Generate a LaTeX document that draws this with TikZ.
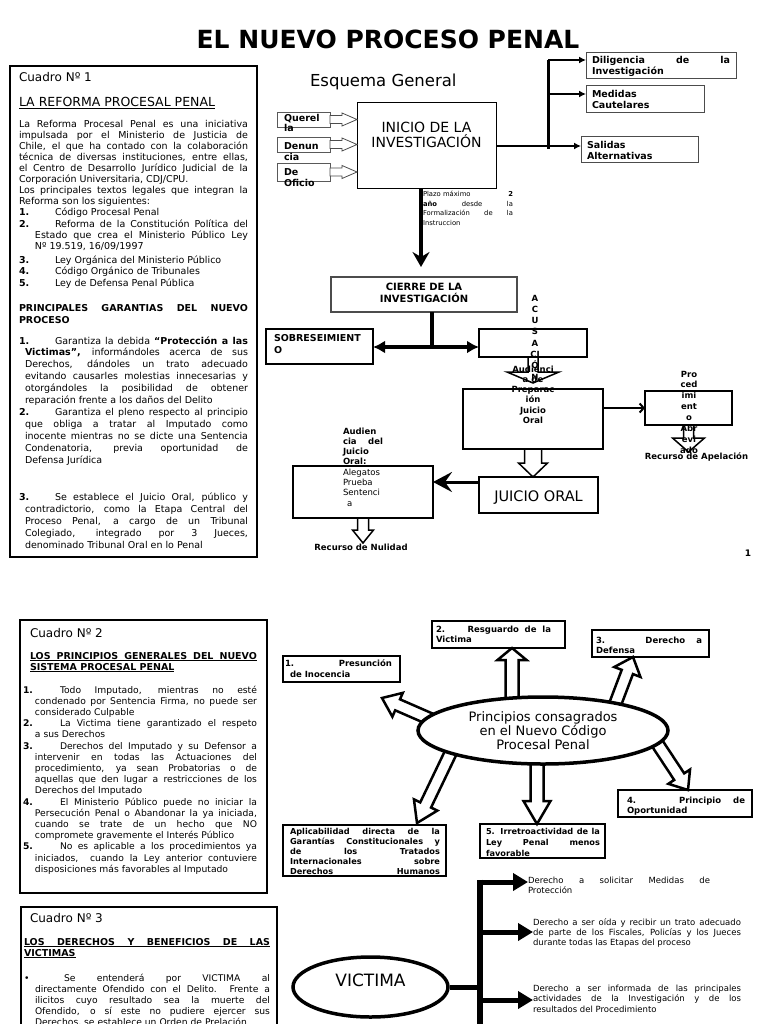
\documentclass[tikz,border=0pt]{standalone}
\usepackage{fontspec}
\setmainfont{DejaVu Sans}
\usetikzlibrary{arrows.meta,calc,shapes.geometric}
\newcommand\fs[2]{\fontsize{#1}{#2}\selectfont}
\newcommand\jpar[2]{\parbox[t]{#1pt}{#2}}
\newcommand\cpar[2]{\parbox[t]{#1pt}{\centering #2}}
\newcommand\lpar[2]{\parbox[t]{#1pt}{\raggedright #2}}
\newcommand\num[2]{\makebox[#1pt][l]{\textbf{#2}}}
\newcommand\uspread[2]{\underline{\makebox[#1pt][s]{#2}}}
\newcommand\rbox[6][]{\node[rectbox,#1,minimum width={#4-#2},minimum height={#5-#3}] (#6) at (#2,#3) {};}
\newcommand\harrow[6][]{%
 \coordinate (haS) at (#2);
 \coordinate (haT) at (#3);
 \coordinate (haH) at ($(haT)!#6pt!(haS)$);
 \draw[harr,#1] ($(haS)!#4pt!90:(haT)$) -- ($(haH)!#4pt!-90:(haS)$) -- ($(haH)!#5pt!-90:(haS)$) -- (haT) -- ($(haH)!#5pt!90:(haS)$) -- ($(haH)!#4pt!90:(haS)$) -- ($(haS)!#4pt!-90:(haT)$) -- cycle;}
\begin{document}
\begin{tikzpicture}[x=1pt,y=-1pt,
 txt/.style={anchor=base west,inner sep=0pt,outer sep=0pt},
 ctxt/.style={anchor=base,inner sep=0pt,outer sep=0pt},
 rectbox/.style={draw,anchor=north west,inner sep=0pt,outer sep=0pt,line width=1pt},
 harr/.style={draw=black,fill=white,line width=1.5pt,line join=miter},
 lat/.style={line width=2pt,-{Latex[length=7pt,width=7pt]}}]
\useasboundingbox (0,0) rectangle (768,1024);
\fill[white] (0,0) rectangle (768,1024);

\node[ctxt,font=\fs{25}{28}\bfseries] (title) at (388,49) {EL NUEVO PROCESO PENAL};

% ---------------- Cuadro 1
\rbox[line width=2.2pt]{10}{66}{257}{557}{c1}
\node[txt,font=\fs{12}{14}] (c1t) at (19,81.5) {Cuadro Nº 1};
\node[txt,font=\fs{12.5}{14}] (c1h) at (19,106.5) {\underline{LA REFORMA PROCESAL PENAL}};
\node[txt] (c1p) at (19,128) {\jpar{229}{\fs{9.5}{11}La Reforma Procesal Penal es una iniciativa\linebreak impulsada por el Ministerio de Justicia de\linebreak Chile, el que ha contado con la colaboración\linebreak técnica de diversas instituciones, entre ellas,\linebreak el Centro de Desarrollo Jurídico Judicial de la\linebreak Corporación Universitaria, CDJ/CPU.\\ Los principales textos legales que integran la\linebreak Reforma son los siguientes:}};
\node[txt] (c1l) at (19,216) {\jpar{229}{\fs{9.5}{11}\num{36}{1.}Código Procesal Penal\par\hangindent=16pt\hangafter=1\num{36}{2.}Reforma de la Constitución Política del\linebreak Estado que crea el Ministerio Público Ley\linebreak Nº 19.519, 16/09/1997}};
\node[txt] (c1m) at (19,263) {\jpar{229}{\fs{9.5}{11.5}\num{36}{3.}Ley Orgánica del Ministerio Público\par\num{36}{4.}Código Orgánico de Tribunales\par\num{36}{5.}Ley de Defensa Penal Pública}};
\node[txt] (c1g) at (19,311) {\jpar{229}{\fs{9.5}{12}\bfseries PRINCIPALES GARANTIAS DEL NUEVO\linebreak PROCESO}};
\node[txt] (c1g1) at (19,344) {\jpar{229}{\fs{9.5}{11.8}\hangindent=6pt\hangafter=1\num{36}{1.}Garantiza la debida \textbf{“Protección a las}\linebreak \textbf{Victimas”,} informándoles acerca de sus\linebreak Derechos, dándoles un trato adecuado\linebreak evitando causarles molestias innecesarias y\linebreak otorgándoles la posibilidad de obtener\linebreak reparación frente a los daños del Delito}};
\node[txt] (c1g2) at (19,415) {\jpar{229}{\fs{9.5}{12}\hangindent=6pt\hangafter=1\num{36}{2.}Garantiza el pleno respecto al principio\linebreak que obliga a tratar al Imputado como\linebreak inocente mientras no se dicte una Sentencia\linebreak Condenatoria, previa oportunidad de\linebreak Defensa Jurídica}};
\node[txt] (c1g3) at (19,500) {\jpar{229}{\fs{9.5}{12}\hangindent=6pt\hangafter=1\num{36}{3.}Se establece el Juicio Oral, público y\linebreak contradictorio, como la Etapa Central del\linebreak Proceso Penal, a cargo de un Tribunal\linebreak Colegiado, integrado por 3 Jueces,\linebreak denominado Tribunal Oral en lo Penal}};

% ---------------- Esquema general
\node[txt,font=\fs{16.5}{18}] (esq) at (310,87) {Esquema General};
\rbox{357}{103}{496}{189}{inicio}
\node[ctxt] (iniciot) at (426.5,133) {\cpar{138}{\fs{14}{15}INICIO DE LA\\INVESTIGACIÓN}};
\rbox[draw=gray!70!black,line width=0.9pt]{277}{112}{330}{127}{q1}
\rbox[draw=gray!70!black,line width=0.9pt]{277}{137}{330}{152}{q2}
\rbox[draw=gray!70!black,line width=0.9pt]{277}{163}{330}{181}{q3}
\node[txt] (q1t) at (284,122) {\lpar{50}{\fs{9.5}{10}\bfseries Querel\\la}};
\node[txt] (q2t) at (284,150) {\lpar{50}{\fs{9.5}{11}\bfseries Denun\\cia}};
\node[txt] (q3t) at (284,176) {\lpar{50}{\fs{9.5}{11}\bfseries De\\Oficio}};
\harrow[draw=gray!60!black,line width=0.8pt]{q1.east}{q1.east -| inicio.west}{4}{6.5}{15}
\harrow[draw=gray!60!black,line width=0.8pt]{q2.east}{q2.east -| inicio.west}{4}{6.5}{15}
\harrow[draw=gray!60!black,line width=0.8pt]{q3.east}{q3.east -| inicio.west}{4}{6.5}{15}

\rbox[draw=gray!60!black]{586}{53}{736}{79}{dilig}
\rbox[draw=gray!60!black]{586}{86}{704}{113}{medid}
\rbox[draw=gray!60!black]{581}{137}{698}{163}{salid}
\begin{scope}
\clip (dilig.south west) rectangle (dilig.north east);
\node[txt] (diligt) at (592,64) {\jpar{138}{\fs{9.5}{11}\bfseries Diligencia de la\linebreak Investigación}};
\end{scope}
\node[txt] (medidt) at (592,98) {\lpar{110}{\fs{9.5}{11}\bfseries Medidas\\Cautelares}};
\node[txt] (salidt) at (587,149) {\lpar{110}{\fs{9.5}{11}\bfseries Salidas\\Alternativas}};
\coordinate (tk1) at (548,60);
\coordinate (tk2) at (548,94);
\coordinate (tk3) at (548,149);
\draw[line width=3pt] (tk1) -- (tk3);
\draw[lat] (inicio.east) -- (inicio.east -| salid.west);
\draw[lat] (tk1) -- (tk1 -| dilig.west);
\draw[lat] (tk2) -- (tk2 -| medid.west);

\rbox[draw=gray!60!black,line width=1.2pt]{331}{277}{517}{312}{cierre}
\node[ctxt] (cierret) at (424,290) {\cpar{180}{\fs{10}{12}\bfseries CIERRE DE LA\\INVESTIGACIÓN}};
\coordinate (dn1) at ([xshift=-5.5pt]inicio.south);
\draw[line width=4pt,-{Stealth[length=15pt,width=17pt,inset=5pt]},shorten >=10pt] (dn1) -- (dn1 |- cierre.north);
\node[txt] (plazo) at (423,197) {\jpar{90}{\fs{6.8}{9.5}Plazo máximo\hfill\textbf{2}\linebreak\textbf{año} desde la\linebreak Formalización de la\linebreak Instruccion}};

\rbox[line width=2pt]{266}{329}{373}{364}{sobre}
\node[txt] (sobret) at (274,341) {\lpar{100}{\fs{9.5}{12}\bfseries SOBRESEIMIENT\\O}};
\rbox[line width=2pt]{479}{329}{587}{357}{acus}
\coordinate (split) at (432,347);
\draw[line width=4pt] (cierre.south -| split) -- (split);
\draw[line width=4pt,{Latex[length=12pt,width=13pt]}-{Latex[length=12pt,width=13pt]}] (split -| sobre.east) -- (split -| acus.west);

\rbox[line width=2pt]{463}{389}{603}{449}{audprep}
\coordinate (acusT) at ($(acus.south)+(0,26)$);
\harrow{acus.south}{acusT}{5}{26}{11}
\node[ctxt] (acust) at (535,301) {\cpar{20}{\fs{8.5}{11.3}\bfseries A\\C\\U\\S\\A\\CI\\Ó\\N}};
\node[ctxt] (audprept) at (533,372) {\cpar{60}{\fs{8.5}{10.3}\bfseries Audienci\\a de\\Preparac\\ión\\Juicio\\Oral}};

\rbox[line width=2pt]{645}{391}{732}{425}{proc}
\coordinate (apr) at ([yshift=11pt]audprep.east);
\draw[line width=2pt,-{Straight Barb[length=4pt,width=9pt]}] (apr) -- (apr -| proc.west);
\coordinate (procT) at ($(proc.south)+(0,27)$);
\harrow{proc.south}{procT}{5}{16}{14}
\node[ctxt] (proct) at (689,377) {\cpar{40}{\fs{8.5}{10.9}\bfseries Pro\\ced\\imi\\ent\\o\\Abr\\evi\\ado}};
\node[ctxt,font=\fs{8.5}{10}\bfseries] (apel) at (696.5,459) {Recurso de Apelación};

\rbox[line width=2.5pt]{479}{477}{598}{513}{jo}
\node[ctxt,font=\fs{14.5}{16}] (jot) at (538.5,501) {JUICIO ORAL};
\harrow{audprep.south}{audprep.south |- jo.north}{8.5}{14.5}{14}

\rbox[line width=2pt]{293}{466}{433}{518}{audj}
\coordinate (joL) at ([yshift=-5pt]jo.north west);
\draw[line width=3pt,-{Stealth[length=19pt,width=20pt,inset=7pt]}] (joL) -- (joL -| audj.east);
\node[txt] (audjt) at (343,434) {\lpar{50}{\fs{8.5}{10.3}\bfseries Audien\\\makebox[40pt]{cia\hfill del}\\Juicio\\Oral:\\\mdseries Alegatos\\Prueba\\Sentenci\\\hspace*{4pt}a}};
\coordinate (audjT) at ($(audj.south)+(0,25)$);
\harrow{audj.south}{audjT}{5.5}{10.5}{13}
\node[ctxt,font=\fs{8.5}{10}\bfseries] (nul) at (361,550) {Recurso de Nulidad};
\node[ctxt,font=\fs{9}{10}\bfseries] (pg) at (748,556) {1};

% ---------------- Cuadro 2
\rbox[line width=2.2pt]{20}{620}{267}{893}{c2}
\node[txt,font=\fs{12}{14}] (c2t) at (30,637) {Cuadro Nº 2};
\node[txt] (c2h) at (30,659) {\jpar{227}{\fs{9.5}{11}\bfseries\uspread{227}{LOS PRINCIPIOS GENERALES DEL NUEVO}\\\underline{SISTEMA PROCESAL PENAL}}};
\node[txt] (c2b) at (23,693) {\jpar{234}{\fs{9.2}{11.2}\hangindent=12pt\hangafter=1\num{37}{1.}Todo Imputado, mientras no esté\linebreak condenado por Sentencia Firma, no puede ser\linebreak considerado Culpable\par
\hangindent=12pt\hangafter=1\num{37}{2.}La Victima tiene garantizado el respeto\linebreak a sus Derechos\par
\hangindent=12pt\hangafter=1\num{37}{3.}Derechos del Imputado y su Defensor a\linebreak intervenir en todas las Actuaciones del\linebreak procedimiento, ya sean Probatorias o de\linebreak aquellas que den lugar a restricciones de los\linebreak Derechos del Imputado\par
\hangindent=12pt\hangafter=1\num{37}{4.}El Ministerio Público puede no iniciar la\linebreak Persecución Penal o Abandonar la ya iniciada,\linebreak cuando se trate de un hecho que NO\linebreak compromete gravemente el Interés Público\par
\hangindent=12pt\hangafter=1\num{37}{5.}No es aplicable a los procedimientos ya\linebreak iniciados,\ \ cuando la Ley anterior contuviere\linebreak disposiciones más favorables al Imputado}};

% ---------------- Cuadro 3
\rbox[line width=2.2pt]{21}{907}{277}{1045}{c3}
\node[txt,font=\fs{12}{14}] (c3t) at (30,922) {Cuadro Nº 3};
\node[txt] (c3h) at (24,945) {\jpar{246}{\fs{9.5}{11}\bfseries\uspread{246}{LOS DERECHOS Y BENEFICIOS DE LAS}\\\underline{VICTIMAS}}};
\node[txt] (c3b) at (24,981) {\jpar{246}{\fs{9.2}{11.2}\hangindent=11pt\hangafter=1\makebox[40pt][l]{•}Se entenderá por VICTIMA al\linebreak directamente Ofendido con el Delito. Frente a\linebreak ilicitos cuyo resultado sea la muerte del\linebreak Ofendido, o sí este no pudiere ejercer sus\linebreak Derechos, se establece un Orden de Prelación}};

% ---------------- Principios
\coordinate (ellc) at (543,730.5);
\rbox[line width=2pt]{283}{656}{400}{682}{b1}
\rbox[line width=2pt]{432}{621}{565}{648}{b2}
\rbox[line width=2pt]{592}{630}{709}{657}{b3}
\rbox[line width=2pt]{618}{790}{752}{817}{b4}
\rbox[line width=2pt]{480}{824}{605}{858}{b5}
\rbox[line width=2pt]{283}{825}{446}{876}{b6}
\node[txt] (b1t) at (285,666) {\jpar{107}{\fs{8.5}{11}\bfseries 1.\hfill Presunción\linebreak\hspace*{5pt}de Inocencia}};
\node[txt] (b2t) at (436,632) {\jpar{115}{\fs{8.5}{10.5}\bfseries 2.\hspace{10pt} Resguardo de la\linebreak Victima}};
\node[txt] (b3t) at (596,643) {\jpar{106}{\fs{8.5}{10}\bfseries 3.\hspace{12pt} Derecho a\linebreak Defensa}};
\begin{scope}
\clip (b4.south west) rectangle (b4.north east);
\node[txt] (b4t) at (627,803) {\jpar{118}{\fs{8.5}{10}\bfseries 4.\hspace{12pt} Principio de\linebreak Oportunidad}};
\end{scope}
\begin{scope}
\clip (b5.south west) rectangle (b5.north east);
\node[txt] (b5t) at (486,834) {\jpar{114}{\fs{8.2}{11}\bfseries 5. Irretroactividad de la\linebreak Ley Penal menos\linebreak favorable}};
\end{scope}
\begin{scope}
\clip (b6.south west) rectangle (b6.north east);
\node[txt] (b6t) at (290,834) {\jpar{150}{\fs{8.2}{10.2}\bfseries Aplicabilidad directa de la\linebreak Garantías Constitucionales y\linebreak de los Tratados\linebreak Internacionales sobre\linebreak Derechos\hfill Humanos}};
\end{scope}
\coordinate (a1s) at ($(ellc)+(-98,-5)$);
\coordinate (a1t) at (382,698);
\coordinate (a2s) at ($(ellc)+(-31,-20)$);
\coordinate (a3s) at ($(ellc)+(69,-18)$);
\coordinate (a3t) at ($(b3.south west)+(41,0)$);
\coordinate (a4s) at ($(ellc)+(112,9.5)$);
\coordinate (a4t) at ($(b4.north west)+(70,0)$);
\coordinate (a5s) at ($(ellc)+(-6,20)$);
\coordinate (a6s) at ($(ellc)+(-91,19.5)$);
\coordinate (a6t) at ($(b6.north west)+(134,-2)$);
\harrow[line width=2.5pt]{a1s}{a1t}{6}{13}{17}
\harrow[line width=2.5pt]{a2s}{a2s |- b2.south}{6.5}{14.5}{12}
\harrow[line width=2.5pt]{a3s}{a3t}{6}{14}{16}
\harrow[line width=2.5pt]{a4s}{a4t}{6}{13}{16}
\harrow[line width=2.5pt]{a5s}{a5s |- b5.north}{6.5}{13.5}{23}
\harrow[line width=2.5pt]{a6s}{a6t}{6}{13}{20}
\node[ellipse,draw,line width=3.5pt,fill=white,minimum width=250,minimum height=67,inner sep=0pt] (ell) at (ellc) {};
\node[ctxt] (ellt) at (543,721) {\cpar{220}{\fs{13}{14}Principios consagrados\\en el Nuevo Código\\Procesal Penal}};

% ---------------- Victima
\node[ellipse,draw,line width=3.5pt,minimum width=155,minimum height=60,inner sep=0pt] (vic) at (370.5,987) {};
\node[ctxt,font=\fs{17}{18}] (vict) at (370.5,986) {VICTIMA};
\node[txt] (d1) at (528,883) {\jpar{182}{\fs{8.5}{10}Derecho a solicitar Medidas de\linebreak Protección}};
\node[txt] (d2) at (533,925) {\jpar{208}{\fs{8.5}{10}Derecho a ser oída y recibir un trato adecuado\linebreak de parte de los Fiscales, Policías y los Jueces\linebreak durante todas las Etapas del proceso}};
\node[txt] (d3) at (533,991) {\jpar{208}{\fs{8.5}{10.5}Derecho a ser informada de las principales\linebreak actividades de la Investigación y de los\linebreak resultados del Procedimiento}};
\coordinate (v0) at (480,879.5);
\coordinate (v1) at (480,882);
\coordinate (v2) at (480,932);
\coordinate (v3) at (480,1000);
\coordinate (v4) at (480,1030);
\draw[line width=5.5pt] (v0) -- (v4);
\draw[line width=5pt] (vic.east) -- (vic.east -| v1);
\draw[line width=5pt,-{Triangle[length=15pt,width=17pt]}] (v1) -- (v1 -| d1.west);
\draw[line width=5pt,-{Triangle[length=15pt,width=17pt]}] (v2) -- (v2 -| d2.west);
\draw[line width=5pt,-{Triangle[length=15pt,width=17pt]}] (v3) -- (v3 -| d3.west);
\end{tikzpicture}
\end{document}
